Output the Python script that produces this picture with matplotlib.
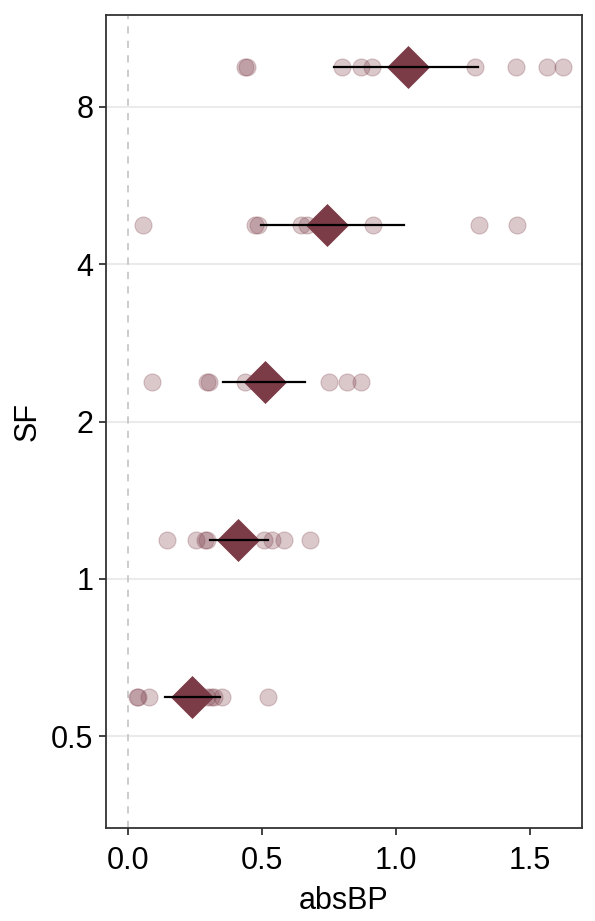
import numpy as np
import matplotlib.pyplot as plt

plt.rcParams['font.family'] = ['Liberation Sans', 'DejaVu Sans']

sf_levels = [0.5, 1, 2, 4, 8]
abs_bp = [
    [0.033, 0.037, 0.077, 0.294, 0.309, 0.321, 0.353, 0.522],
    [0.146, 0.255, 0.286, 0.296, 0.507, 0.537, 0.582, 0.679],
    [0.090, 0.294, 0.304, 0.438, 0.752, 0.816, 0.871],
    [0.056, 0.474, 0.484, 0.647, 0.669, 0.744, 0.916, 1.310, 1.453],
    [0.437, 0.446, 0.800, 0.870, 0.912, 1.296, 1.449, 1.562, 1.622],
]
mean_bp = [0.238, 0.412, 0.510, 0.744, 1.045]
ci_low = [0.137, 0.306, 0.355, 0.498, 0.768]
ci_high = [0.344, 0.522, 0.660, 1.029, 1.307]

nudge = 2 ** 0.25  # rows drawn a bit above each tick on the log scale
col = '#7B3B47'

fig = plt.figure(figsize=(5.95, 9.21), dpi=100)
ax = fig.add_axes([0.178, 0.101, 0.8, 0.883])

ax.set_yscale('log', base=2)
ax.set_ylim(0.334, 12.0)
ax.set_xlim(-0.082, 1.694)

ax.axvline(0, color='#C8C8C8', lw=1.3, ls=(0, (4, 4)), zorder=1)

for sf, vals, m, lo, hi in zip(sf_levels, abs_bp, mean_bp, ci_low, ci_high):
    y = sf * nudge
    ax.scatter(vals, [y] * len(vals), s=150, color=col, alpha=0.28,
               edgecolors=col, linewidths=0.8, zorder=2)
    ax.scatter([m], [y], s=480, marker='D', color=col, linewidths=0, zorder=3)
    ax.plot([lo, hi], [y, y], color='black', lw=1.6, zorder=4)

ax.set_yticks(sf_levels)
ax.set_yticklabels(['0.5', '1', '2', '4', '8'])
ax.yaxis.set_minor_locator(plt.NullLocator())
ax.set_xticks([0.0, 0.5, 1.0, 1.5])
ax.set_xticklabels(['0.0', '0.5', '1.0', '1.5'])
ax.grid(axis='y', color='#EBEBEB', lw=1.5, zorder=0)
ax.set_axisbelow(True)

for s in ax.spines.values():
    s.set_color('#333333')
    s.set_linewidth(1.3)
ax.tick_params(axis='both', labelsize=22, colors='#333333', length=5, width=1.3,
               labelcolor='black', pad=4)
ax.tick_params(axis='x', pad=8)

ax.set_xlabel('absBP', fontsize=22, labelpad=7)
ax.set_ylabel('SF', fontsize=22, labelpad=6)

fig.savefig('out.png', dpi=100)
